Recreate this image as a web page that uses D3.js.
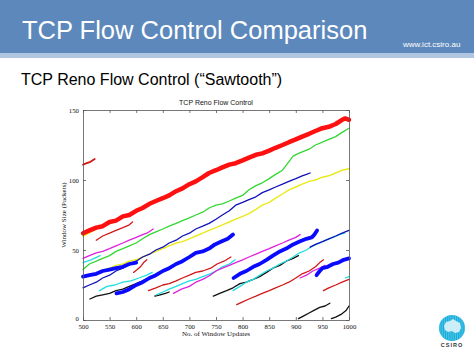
<!DOCTYPE html>
<html><head><meta charset="utf-8">
<script src="https://cdn.jsdelivr.net/npm/d3@7"></script>
<style>body{margin:0;background:#fff}svg{display:block}</style>
</head><body>
<svg id="c" width="474" height="355"></svg>
<script>
// ---- data ----
const xTicks = [500,550,600,650,700,750,800,850,900,950,1000];
const yTicks = [0,50,100,150];
const redThick = [[500,62],[512,64],[525,66],[537,67],[550,70],[562,71],[575,74],[587,75],[600,78],[612,80],[625,83],[637,85],[650,87],[662,89],[675,92],[687,94],[700,97],[712,99],[725,102],[737,105],[750,107],[762,109],[775,111],[787,112],[800,114],[812,116],[825,118],[837,119],[850,121],[862,123],[875,125],[887,127],[900,129],[912,131],[925,133],[937,135],[950,137],[962,138],[975,140],[987,143],[993,144],[1000,143]];
const redTop = [[500,111],[507,112],[514,113],[522,115]];
const green = [[500,36],[512,40],[525,42],[537,44],[550,46],[562,49],[575,51],[587,53],[600,55],[612,58],[625,61],[637,63],[650,65],[662,67],[675,69],[687,71],[700,73],[712,75],[725,77],[737,80],[750,82],[762,83],[775,85],[787,87],[800,89],[812,93],[825,96],[837,98],[850,101],[862,104],[875,107],[885,112],[895,117],[905,119],[925,122],[937,125],[950,127],[962,129],[975,131],[987,134],[1000,137]];
const yellowShort = [[500,60],[510,62],[520,64]];
const yellowLong = [[520,33],[535,35],[550,37],[562,39],[575,40],[587,42],[600,43],[612,45],[625,47],[637,49],[650,51],[662,53],[675,55],[687,56],[700,58],[712,60],[725,62],[737,64],[750,66],[762,68],[775,70],[787,72],[800,74],[812,76],[825,79],[837,82],[850,84],[862,87],[875,90],[887,93],[900,95],[912,97],[925,99],[937,100],[950,102],[962,103],[975,105],[987,107],[1000,108]];
const navyLong = [[500,23],[512,25],[525,27],[537,30],[550,32],[562,35],[575,37],[587,40],[600,42],[612,45],[625,47],[637,50],[650,52],[662,55],[675,57],[687,60],[700,62],[712,65],[725,67],[737,69],[750,72],[762,75],[775,78],[787,82],[800,84],[812,86],[825,88],[837,91],[850,93],[862,95],[875,97],[887,99],[900,101],[912,103],[920,104],[927,105]];
const magenta1 = [[500,44],[512,46],[525,48],[537,49],[550,51],[562,53],[575,55],[587,57],[600,59],[612,61],[620,62],[632,65]];
const red2 = [[525,57],[537,60],[550,62],[562,64],[575,66],[587,68],[593,70]];
const cyan1 = [[500,41],[515,43],[532,46]];
const blueThickA = [[500,31],[512,32],[525,33],[537,35],[550,36],[562,37],[575,38],[587,40],[600,41]];
const black1 = [[513,15],[525,17],[537,18],[550,19],[562,21],[575,22],[587,24],[600,26],[612,28],[625,30]];
const cyan2 = [[531,21],[545,24],[560,25],[575,27],[590,28],[605,30],[620,32],[630,34]];
const blueThickB = [[563,19],[575,20],[587,22],[600,25],[612,27],[625,30],[637,32],[650,35],[662,37],[675,40],[687,42],[700,45],[712,48],[725,49],[737,51],[748,54],[760,56],[772,58],[782,61]];
const redShort = [[595,34],[602,36],[608,38],[614,41],[620,43]];
const red3 = [[623,21],[637,23],[650,25],[662,26],[675,28],[687,30],[700,32],[712,34],[725,35],[740,37],[752,40],[765,42],[778,45]];
const black2 = [[635,17],[645,18],[655,19],[662,20]];
const cyan3 = [[638,18],[650,20],[662,22],[675,24],[687,26],[700,28],[712,29],[725,31],[739,33],[750,35],[762,38],[775,40],[786,43]];
const magenta2 = [[670,19],[685,22],[700,24],[712,27],[725,29],[739,32],[750,35],[762,37],[775,39],[787,41],[800,43],[812,45],[825,47],[837,49],[850,51],[862,53],[875,55],[887,57],[900,59],[908,61]];
const black3 = [[745,17],[757,19],[770,21],[782,23],[795,26],[807,27],[820,29],[832,31],[845,34],[857,37],[870,39],[882,42],[895,44],[905,46]];
const cyan4 = [[782,21],[795,24],[807,27],[820,29],[832,32],[845,35],[857,37],[870,40],[882,42],[895,45],[907,48],[920,50],[932,53],[945,55],[957,57],[970,59],[982,61],[992,62]];
const red4 = [[789,11],[800,13],[812,15],[825,17],[837,19],[850,21],[862,23],[875,25],[887,27],[900,30],[912,33],[925,35],[937,38],[945,41],[952,43]];
const blueThickC = [[783,30],[795,33],[807,35],[820,38],[832,40],[845,43],[857,46],[870,49],[882,51],[895,54],[907,56],[920,58],[930,59],[935,61],[940,64]];
const navy2 = [[927,52],[937,54],[950,56],[962,58],[975,60],[987,62],[1000,64]];
const magenta3 = [[908,30],[920,32],[932,35],[945,37],[955,39]];
const blueThickD = [[939,32],[945,35],[950,37],[960,38],[970,40],[980,41],[990,43],[1000,44]];
const red5 = [[952,21],[962,23],[975,25],[987,27],[1000,29]];
const cyan5 = [[993,30],[1000,31]];
const black4 = [[905,1],[915,3],[925,5],[935,7],[945,9],[955,10],[964,12]];
const black5 = [[967,1],[975,2],[985,4],[995,7],[1000,10]];

// ---- styles ----
const C = {red:"#ff1010", dred:"#d01818", green:"#33d633", yellow:"#eaea1a", navy:"#1010b8", blue:"#0a0aff", magenta:"#dd22dd", cyan:"#22dede", black:"#111"};
const lines = [
  [black1,C.black,1.3],[black2,C.black,1.3],[black3,C.black,1.3],[black4,C.black,1.3],[black5,C.black,1.3],
  [cyan1,C.cyan,1.3],[cyan2,C.cyan,1.3],[cyan3,C.cyan,1.3],[cyan4,C.cyan,1.3],[cyan5,C.cyan,1.3],
  [red2,C.dred,1.3],[redShort,C.dred,1.3],[red3,C.dred,1.3],[red4,C.dred,1.3],[red5,C.dred,1.3],[redTop,C.dred,1.8],
  [magenta1,C.magenta,1.3],[magenta2,C.magenta,1.3],[magenta3,C.magenta,1.3],
  [yellowShort,C.yellow,2],[yellowLong,C.yellow,1.4],
  [navyLong,C.navy,1.3],[navy2,C.navy,1.3],
  [green,C.green,1.3],
  [blueThickA,C.blue,3.8],[blueThickB,C.blue,3.8],[blueThickC,C.blue,3.8],[blueThickD,C.blue,3.8],
  [redThick,C.red,4.5]
];

const svg = d3.select("#c");
// header
svg.append("rect").attr("x",0).attr("y",0).attr("width",474).attr("height",53).attr("fill","#5d88bb");
svg.append("rect").attr("x",0).attr("y",53).attr("width",474).attr("height",5).attr("fill","#b1c6e0");
svg.append("text").attr("x",22).attr("y",39).attr("fill","#fff")
  .style("font-family","Liberation Sans, Arial, sans-serif").style("font-size","25.5px")
  .text("TCP Flow Control Comparison");
svg.append("text").attr("x",403).attr("y",47).attr("fill","#fff")
  .style("font-family","Liberation Sans, Arial, sans-serif").style("font-size","8px")
  .text("www.ict.csiro.au");
svg.append("text").attr("x",21).attr("y",85).attr("fill","#000")
  .style("font-family","Liberation Sans, Arial, sans-serif").style("font-size","16px")
  .text("TCP Reno Flow Control (\u201CSawtooth\u201D)");

// plot
const L=83, R=349, T=110, B=320;
const x = d3.scaleLinear().domain([500,1000]).range([L,R]);
const y = d3.scaleLinear().domain([0,150]).range([B,T]);
const serif = "Liberation Serif, Times New Roman, serif";
const axC = "#555";

svg.append("text").attr("x",(L+R)/2).attr("y",105).attr("text-anchor","middle")
  .style("font-family","Liberation Sans, Arial, sans-serif").style("font-size","7px").attr("fill","#111")
  .text("TCP Reno Flow Control");

const line = d3.line().x(d=>x(d[0])).y(d=>y(d[1]));
const g = svg.append("g");
lines.forEach(([data,col,w])=>{
  g.append("path").datum(data).attr("d",line).attr("fill","none")
   .attr("stroke",col).attr("stroke-width",w).attr("stroke-linejoin","round").attr("stroke-linecap","round");
});

function styleAxis(sel, labels){
  sel.select(".domain").attr("stroke",axC).attr("stroke-width",0.8);
  sel.selectAll(".tick line").attr("stroke",axC).attr("stroke-width",0.8);
  sel.selectAll(".tick text").style("font-family",serif).style("font-size","6.8px").attr("fill","#111");
  if(!labels) sel.selectAll(".tick text").remove();
}
const xb = svg.append("g").attr("transform",`translate(0,${B})`)
  .call(d3.axisBottom(x).tickValues(xTicks).tickSizeInner(-3).tickSizeOuter(0).tickPadding(4).tickFormat(d3.format("d")));
styleAxis(xb,true);
const xt = svg.append("g").attr("transform",`translate(0,${T})`)
  .call(d3.axisTop(x).tickValues(xTicks).tickSizeInner(-3).tickSizeOuter(0));
styleAxis(xt,false);
const yl = svg.append("g").attr("transform",`translate(${L},0)`)
  .call(d3.axisLeft(y).tickValues(yTicks).tickSizeInner(-3).tickSizeOuter(0).tickPadding(4));
styleAxis(yl,true);
yl.selectAll(".tick text").filter(d=>d===0).attr("dy","0.1em");
const yr = svg.append("g").attr("transform",`translate(${R},0)`)
  .call(d3.axisRight(y).tickValues(yTicks).tickSizeInner(-3).tickSizeOuter(0));
styleAxis(yr,false);

svg.append("text").attr("x",(L+R)/2).attr("y",336).attr("text-anchor","middle")
  .style("font-family",serif).style("font-size","7px").attr("fill","#111")
  .text("No. of Window Updates");
svg.append("text").attr("transform",`translate(66,${(T+B)/2}) rotate(-90)`).attr("text-anchor","middle")
  .style("font-family",serif).style("font-size","7px").attr("fill","#111")
  .text("Window Size (Packets)");

// CSIRO logo
const lg = svg.append("g").attr("transform","translate(452,328)");
lg.append("clipPath").attr("id","lc").append("circle").attr("r",13);
lg.append("circle").attr("r",13).attr("fill","#17aedb");
const st = lg.append("g").attr("clip-path","url(#lc)");
d3.range(-12,13,2.2).forEach(v=>{
  st.append("line").attr("x1",v).attr("x2",v).attr("y1",-13).attr("y2",13).attr("stroke","#8fd8ef").attr("stroke-width",0.5);
});
st.append("path").attr("d","M-8,-2 L-6,-6 L-2,-7 L1,-9 L4,-7 L8,-5 L9,0 L7,4 L3,5 L0,3 L-4,4 L-7,2 Z").attr("fill","#e8f7fc").attr("opacity",0.85);
svg.append("text").attr("x",452).attr("y",347).attr("text-anchor","middle")
  .style("font-family","Liberation Sans, Arial, sans-serif").style("font-size","5.5px").style("font-weight","bold")
  .style("letter-spacing","1px").attr("fill","#333").text("CSIRO");
</script>
</body></html>
